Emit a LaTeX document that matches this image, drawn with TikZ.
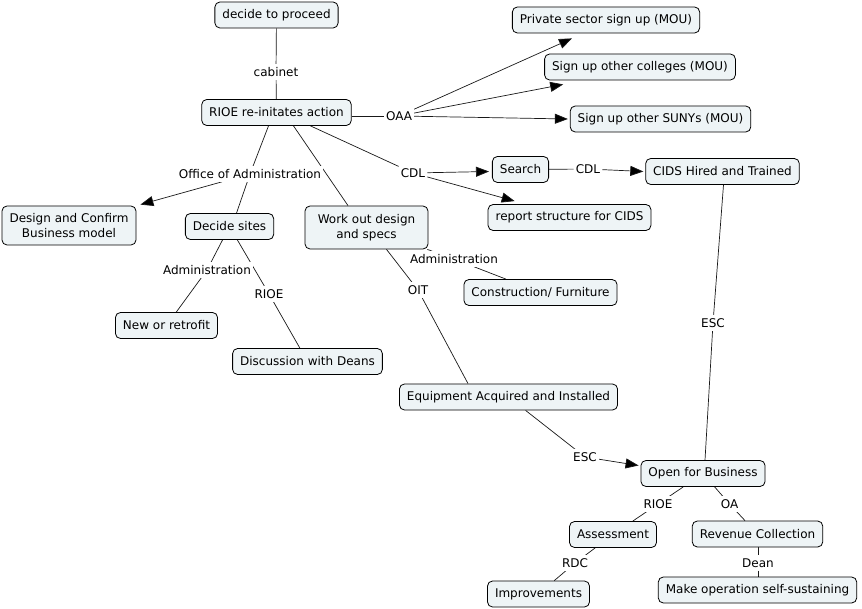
\documentclass[tikz,border=0pt]{standalone}
\usepackage{fontspec}
\newfontfamily\cmapfont{DejaVu Sans}
\usetikzlibrary{arrows.meta,backgrounds}
\definecolor{cfill}{RGB}{238,244,246}
\tikzset{
  concept/.style={draw=black, line width=0.8pt, rounded corners=5pt, fill=cfill,
    inner xsep=7.5pt, inner ysep=6.5pt, minimum height=26pt, align=center,
    font=\cmapfont\fontsize{12}{14.5}\selectfont},
  lbl/.style={inner xsep=2pt, inner ysep=3pt, fill=white,
    font=\cmapfont\fontsize{12}{14.5}\selectfont},
  link/.style={line width=0.7pt, draw=black!90},
  arr/.style={link, -{Triangle[length=13pt,width=10pt,fill=black]}}
}
\begin{document}
\begin{tikzpicture}[x=1pt,y=-1pt]
\useasboundingbox (0,0) rectangle (862,609);
\begin{pgfonlayer}{background}
\fill[white] (0,0) rectangle (862,609);
\end{pgfonlayer}
% concepts
\node[concept] (decide) at (276.5,15) {decide to proceed};
\node[concept] (rioe) at (276.5,112.5) {RIOE re-initates action};
\node[concept] (private) at (606,20) {Private sector sign up (MOU)};
\node[concept] (colleges) at (640,67) {Sign up other colleges (MOU)};
\node[concept] (sunys) at (660.5,119) {Sign up other SUNYs (MOU)};
\node[concept, minimum height=39pt, minimum width=134pt] (design) at (69,225.5) {Design and Confirm\\Business model};
\node[concept] (sites) at (229.5,226.5) {Decide sites};
\node[concept, minimum height=43pt, minimum width=123pt] (work) at (366.5,227.5) {Work out design\\and specs};
\node[concept] (search) at (520.5,169.5) {Search};
\node[concept] (cids) at (722.5,171.5) {CIDS Hired and Trained};
\node[concept] (report) at (569.5,217.5) {report structure for CIDS};
\node[concept] (constr) at (540.5,292.5) {Construction/ Furniture};
\node[concept] (newret) at (166.5,325.5) {New or retrofit};
\node[concept] (deans) at (307.5,361.5) {Discussion with Deans};
\node[concept] (equip) at (508.5,397) {Equipment Acquired and Installed};
\node[concept] (open) at (703,473.5) {Open for Business};
\node[concept] (assess) at (613,534.5) {Assessment};
\node[concept] (revenue) at (757.5,534) {Revenue Collection};
\node[concept] (improve) at (538.5,594) {Improvements};
\node[concept] (selfsust) at (757.5,590) {Make operation self-sustaining};
% link labels
\node[lbl] (cabinet) at (276,72) {cabinet};
\node[lbl] (oaa) at (399,116) {OAA};
\node[lbl] (ooa) at (250,174) {Office of Administration};
\node[lbl] (cdla) at (413,173) {CDL};
\node[lbl] (cdlb) at (588,169) {CDL};
\node[lbl] (admina) at (207,270) {Administration};
\node[lbl] (rioea) at (269,294) {RIOE};
\node[lbl] (adminb) at (454,259) {Administration};
\node[lbl] (oit) at (418,290) {OIT};
\node[lbl] (esca) at (713,323) {ESC};
\node[lbl] (escb) at (585,457) {ESC};
\node[lbl] (rioeb) at (658,504) {RIOE};
\node[lbl] (oa) at (729.5,504) {OA};
\node[lbl] (rdc) at (575,563) {RDC};
\node[lbl] (dean) at (758,563) {Dean};
% connectors
\begin{pgfonlayer}{background}
\draw[link] (decide) -- (cabinet);
\draw[link] (cabinet) -- (rioe);
\draw[link] (rioe.east |- oaa.west) -- (oaa.west);
\draw[arr] (oaa) -- ([xshift=-34pt,yshift=-5pt]private.south);
\draw[arr] (oaa) -- ([xshift=19pt,yshift=-4pt]colleges.south west);
\draw[arr] (oaa) -- ([xshift=-2pt]sunys.west);
\draw[link] ([xshift=-8pt]rioe.south) -- (ooa);
\draw[link] (ooa) -- ([xshift=7pt]sites.north);
\draw[arr] (ooa) -- ([xshift=4pt,yshift=1pt]design.north east);
\draw[link] ([xshift=17pt]rioe.south) -- ([xshift=-18.5pt]work.north);
\draw[link] ([xshift=34pt]rioe.south) -- (cdla);
\draw[arr] (cdla) -- ([xshift=-3pt,yshift=-2pt]search.west);
\draw[arr] (cdla) -- ([xshift=27pt,yshift=3pt]report.north west);
\draw[link] (search) -- (cdlb);
\draw[arr] (cdlb) -- ([xshift=-2pt]cids.west);
\draw[link] ([xshift=1pt]cids.south) -- (esca);
\draw[link] (esca) -- ([xshift=2pt]open.north);
\draw[link] (work) -- (adminb);
\draw[link] (adminb) -- (constr);
\draw[link] ([xshift=20pt]work.south) -- (oit);
\draw[link] (oit) -- ([xshift=-40.5pt]equip.north);
\draw[link] (sites) -- (admina);
\draw[link] (admina) -- (newret);
\draw[link] (sites) -- (rioea);
\draw[link] (rioea) -- (deans);
\draw[link] (equip) -- (escb);
\draw[arr] (escb) -- ([xshift=-2pt,yshift=8pt]open.west);
\draw[link] (open) -- (rioeb);
\draw[link] (rioeb) -- (assess);
\draw[link] (open) -- (oa);
\draw[link] (oa) -- (revenue);
\draw[link] (assess) -- (rdc);
\draw[link] (rdc) -- (improve);
\draw[link] (revenue.south -| dean) -- (dean);
\draw[link] (dean) -- (selfsust.north -| dean);
\end{pgfonlayer}
\end{tikzpicture}
\end{document}
